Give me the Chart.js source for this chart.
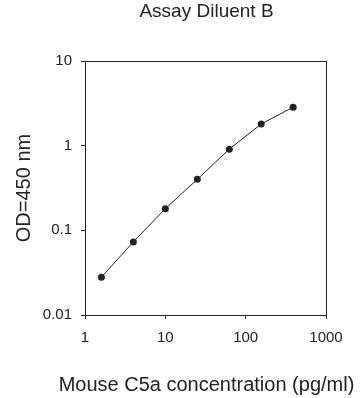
<!DOCTYPE html>
<html>
<head>
<meta charset="utf-8">
<script src="https://cdn.jsdelivr.net/npm/chart.js@4"></script>
<style>
  html, body { margin: 0; padding: 0; background: #fff; }
  canvas { display: block; }
</style>
</head>
<body>
<canvas id="elisa_chart" width="364" height="398"></canvas>
<script>
// standard curve values
var concentrations = [1.6, 4, 10, 25, 62.5, 156, 390];
var odValues = [0.028, 0.073, 0.18, 0.40, 0.91, 1.8, 2.85];
var xTickValues = [1, 10, 100, 1000];
var yTickValues = [0.01, 0.1, 1, 10];

var points = concentrations.map(function(c, i) { return {x: c, y: odValues[i]}; });
var fontFam = '"Liberation Sans", Arial, sans-serif';

// frame, title and x-axis title (wider than the axis, so drawn here)
var framePlugin = {
  id: 'frame',
  afterDraw: function(chart) {
    var a = chart.chartArea, ctx = chart.ctx;
    var cx = (a.left + a.right) / 2 + 1;
    ctx.save();
    ctx.strokeStyle = '#222';
    ctx.lineWidth = 1;
    ctx.strokeRect(a.left + 0.5, a.top + 0.5, a.right - a.left, a.bottom - a.top);
    ctx.fillStyle = '#222';
    ctx.textAlign = 'center';
    ctx.textBaseline = 'middle';
    ctx.font = '19px ' + fontFam;
    ctx.fillText('Assay Diluent B', cx, 12);
    ctx.font = '20px ' + fontFam;
    ctx.fillText('Mouse C5a concentration (pg/ml)', cx, 385);
    ctx.restore();
  }
};

const config = {
  type: 'line',
  data: {
    datasets: [{
      data: points,
      borderColor: '#222',
      borderWidth: 1,
      backgroundColor: '#222',
      pointRadius: 3.5,
      pointBorderWidth: 0,
      fill: false,
      tension: 0
    }]
  },
  options: {
    responsive: false,
    animation: false,
    layout: { padding: { top: 61, right: 38, left: 0, bottom: 0 } },
    plugins: {
      legend: { display: false },
      tooltip: { enabled: false }
    },
    scales: {
      x: {
        type: 'logarithmic',
        min: 1, max: 1000,
        afterBuildTicks: function(s) { s.ticks = xTickValues.map(function(v) { return {value: v}; }); },
        afterFit: function(s) { s.height = 83; },
        ticks: {
          color: '#222', padding: 10, maxRotation: 0,
          font: { size: 15, family: fontFam },
          callback: function(v) { return String(v); }
        },
        grid: { drawOnChartArea: false, tickLength: 4, color: '#222' },
        border: { color: '#222' }
      },
      y: {
        type: 'logarithmic',
        min: 0.01, max: 10,
        afterBuildTicks: function(s) { s.ticks = yTickValues.map(function(v) { return {value: v}; }); },
        afterFit: function(s) { s.width = 85; },
        ticks: {
          color: '#222', padding: 9,
          font: { size: 15, family: fontFam },
          callback: function(v) { return String(v); }
        },
        grid: { drawOnChartArea: false, tickLength: 4, color: '#222' },
        border: { color: '#222' },
        title: {
          display: true, text: 'OD=450 nm', color: '#222',
          font: { size: 20, family: fontFam },
          padding: { top: 12, bottom: 0 }
        }
      }
    }
  },
  plugins: [framePlugin]
};

window.onload = function() {
  var ctx = document.getElementById('elisa_chart').getContext('2d');
  window.elisaChart = new Chart(ctx, config);
};
</script>
</body>
</html>
